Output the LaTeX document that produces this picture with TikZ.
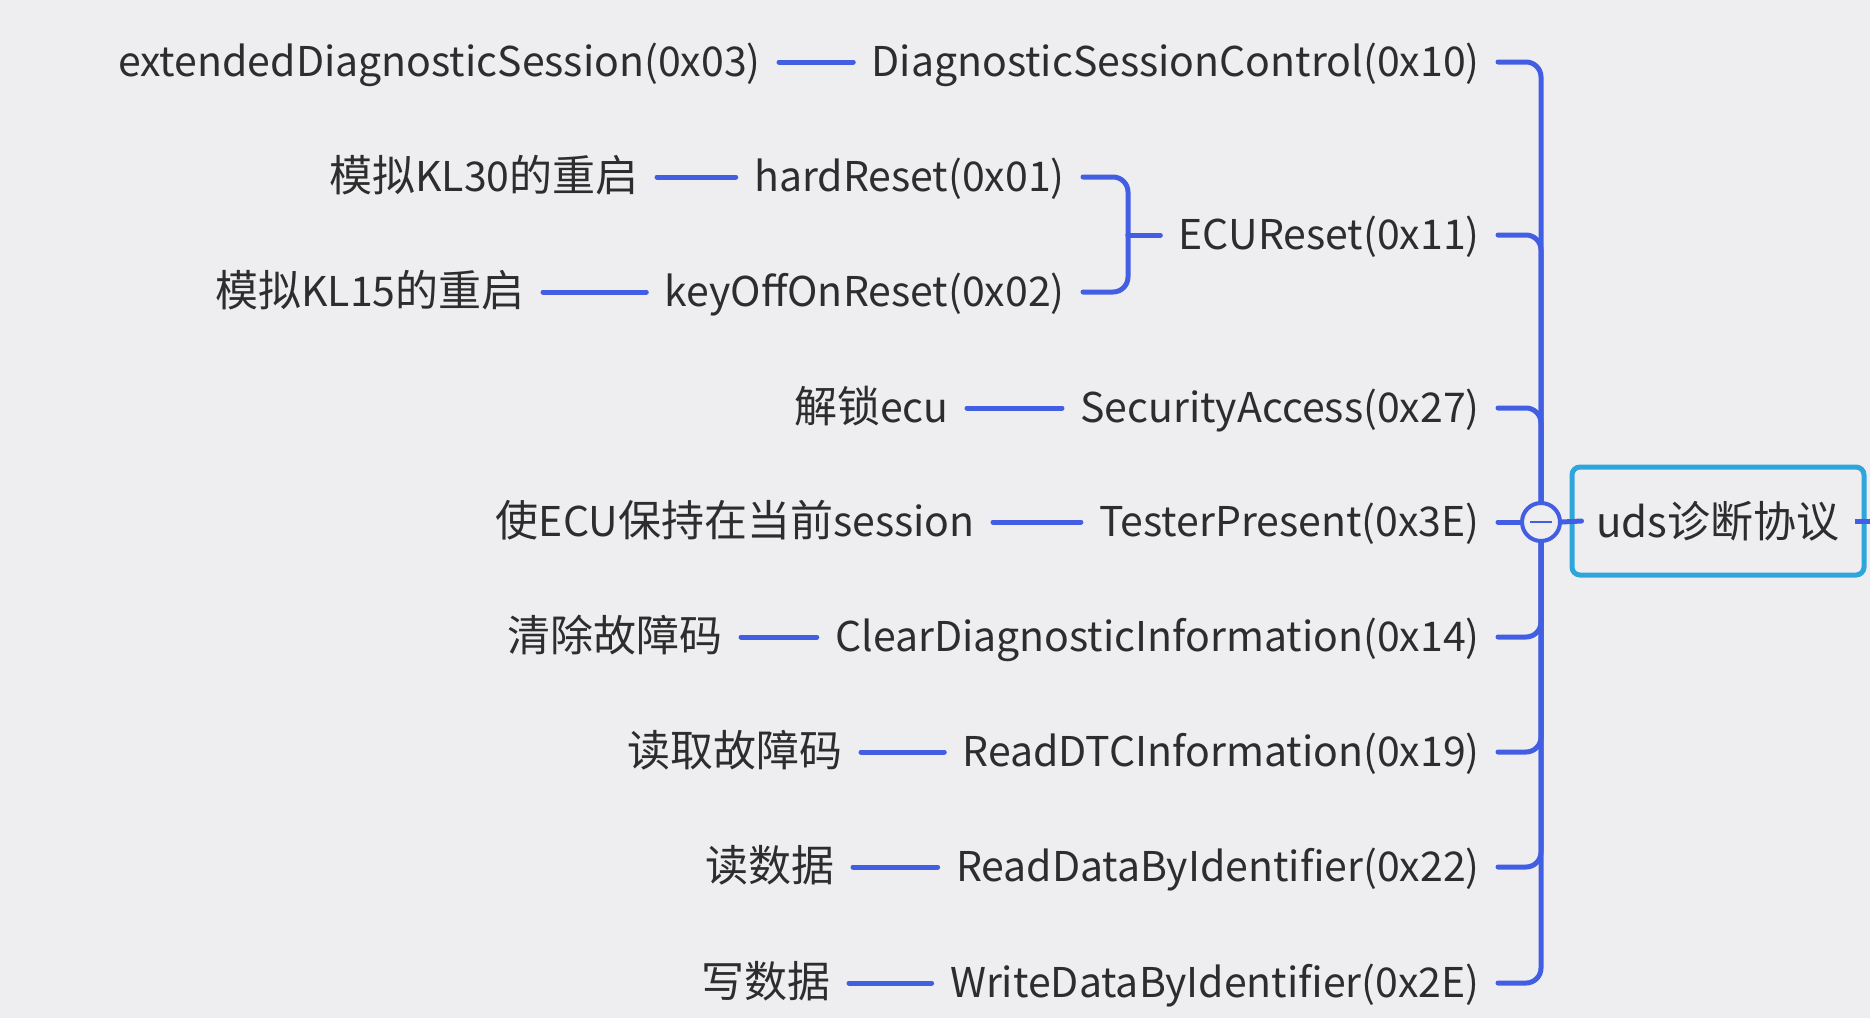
\documentclass[tikz,border=0pt]{standalone}
\usepackage{fontspec}
\setmainfont{Noto Sans CJK SC}
\definecolor{bg}{RGB}{238,238,241}
\definecolor{ln}{RGB}{66,94,226}
\definecolor{rootc}{RGB}{46,166,220}
\definecolor{txt}{RGB}{45,45,45}
\newcommand\zh[1]{{\fontsize{21.5}{24}\selectfont #1}}
\begin{document}
\begin{tikzpicture}[x=0.5pt,y=-0.5pt,
  lbl/.style={anchor=east, inner xsep=9pt, inner ysep=0pt, text height=14pt, text depth=0pt, font=\fontsize{20.5}{24}\selectfont, text=txt},
  conn/.style={draw=ln, line width=2.5pt, rounded corners=7.5pt, line cap=round}]
\fill[bg] (0,0) rectangle (1870,1018);
\useasboundingbox (0,0) rectangle (1870,1018);
% text nodes
\node[lbl] (dsc)  at (1498,62)  {DiagnosticSessionControl(0x10)};
\node[lbl] (ext)  at (779,62)   {extendedDiagnosticSession(0x03)};
\node[lbl] (ecu)  at (1498,235) {ECUReset(0x11)};
\node[lbl] (hr)   at (1083,177) {hardReset(0x01)};
\node[lbl] (kl30) at (657,177)  {\zh{模拟}KL30\zh{的重启}};
\node[lbl] (ko)   at (1083,292) {keyOffOnReset(0x02)};
\node[lbl] (kl15) at (543,292)  {\zh{模拟}KL15\zh{的重启}};
\node[lbl] (sa)   at (1498,408) {SecurityAccess(0x27)};
\node[lbl] (unl)  at (967,408)  {\zh{解锁}ecu};
\node[lbl] (tp)   at (1498,522) {TesterPresent(0x3E)};
\node[lbl] (keep) at (993,522)  {\zh{使}ECU\zh{保持在当前}session};
\node[lbl] (cdi)  at (1498,637) {ClearDiagnosticInformation(0x14)};
\node[lbl] (clr)  at (741,637)  {\zh{清除故障码}};
\node[lbl] (rdtc) at (1498,752) {ReadDTCInformation(0x19)};
\node[lbl] (rd)   at (861,752)  {\zh{读取故障码}};
\node[lbl] (rdbi) at (1498,867) {ReadDataByIdentifier(0x22)};
\node[lbl] (rdd)  at (853,867)  {\zh{读数据}};
\node[lbl] (wdbi) at (1498,983) {WriteDataByIdentifier(0x2E)};
\node[lbl] (wd)   at (849,983)  {\zh{写数据}};
% left connectors
\draw[conn] (ext.east) -- (dsc.west);
\draw[conn] (kl30.east) -- (hr.west);
\draw[conn] (kl15.east) -- (ko.west);
\draw[conn] (unl.east) -- (sa.west);
\draw[conn] (keep.east) -- (tp.west);
\draw[conn] (clr.east) -- (cdi.west);
\draw[conn] (rd.east) -- (rdtc.west);
\draw[conn] (rdd.east) -- (rdbi.west);
\draw[conn] (wd.east) -- (wdbi.west);
% ECUReset bracket
\coordinate (br) at (1128,235);
\draw[conn] (hr.east) -- (hr.east -| br) -- (br);
\draw[conn] (ko.east) -- (ko.east -| br) -- (br);
\draw[conn] (br) -- (ecu.west);
% spine
\coordinate (hub) at (1541,522);
\foreach \n in {dsc,ecu,sa,cdi,rdtc,rdbi,wdbi}
  \draw[conn] (\n.east) -- (\n.east -| hub) -- (hub);
\draw[conn] (tp.east) -- (hub);
\node[circle, draw=ln, fill=bg, line width=2pt, minimum size=19pt, inner sep=0pt] (hubc) at (hub) {};
\draw[ln, line width=1pt] ([xshift=-5.5pt]hubc.center) -- ([xshift=5.5pt]hubc.center);
% root
\node[draw=rootc, line width=2.5pt, rounded corners=4pt, minimum width=146pt, minimum height=54pt, inner sep=0pt, font=\fontsize{21}{24}\selectfont, text=txt] (root) at (1718,521) {uds\zh{诊断协议}};
\draw[conn] (hubc.east) -- ([xshift=6pt]root.west);
\coordinate (edge) at (1870,521);
\draw[conn, line cap=butt] ([xshift=-6pt]root.east) -- (edge);
\end{tikzpicture}
\end{document}
